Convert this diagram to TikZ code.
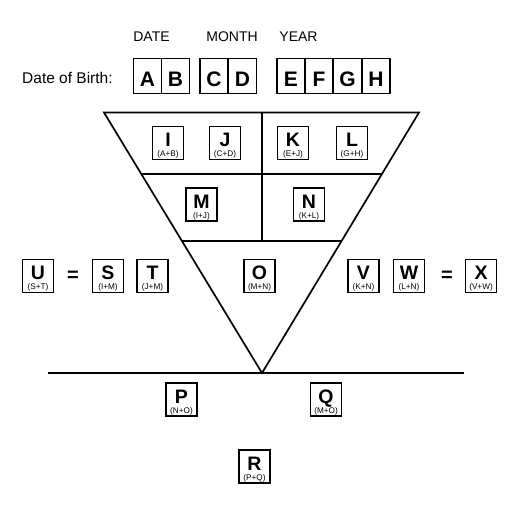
\documentclass[tikz,border=0pt]{standalone}
\usepackage{fontspec}
\setmainfont{Liberation Sans}
\usetikzlibrary{calc}
\newcommand\dbx[2]{%
  \node[digit] (#1) at (#2,75.8) {};
  \node[big] (#1l) at ([yshift=6.6pt]#1.south) {#1};}
\newcommand\cbx[4]{%
  \node[cbox] (#1) at (#2,#3) {};
  \node[mid] (#1l) at ([yshift=13pt]#1.south) {#1};
  \node[sml] (#1s) at ([yshift=2.8pt]#1.south) {(#4)};}
\begin{document}
\begin{tikzpicture}[x=1pt,y=-1pt,
  ln/.style={line width=1.7pt},
  digit/.style={draw, line width=1.6pt, minimum width=28pt, minimum height=35pt, inner sep=0pt, outer sep=0pt},
  cbox/.style={draw, line width=1.6pt, minimum width=31pt, minimum height=33pt, inner sep=0pt, outer sep=0pt},
  big/.style={font=\fontsize{21}{21}\selectfont\bfseries, inner sep=0pt, anchor=base},
  mid/.style={font=\fontsize{19.5}{19.5}\selectfont\bfseries, inner sep=0pt, anchor=base},
  sml/.style={font=\fontsize{8.2}{8.2}\selectfont, inner sep=0pt, anchor=base},
  hdr/.style={font=\fontsize{14}{14}\selectfont, inner sep=0pt, anchor=base},
  eq/.style={font=\fontsize{20}{20}\selectfont\bfseries, inner sep=0pt}
]
\useasboundingbox (0,0) rectangle (520,507);
% headers
\node[hdr] (hdate) at (151.5,41.7) {DATE};
\node[hdr] (hmonth) at (232,41.7) {MONTH};
\node[hdr] (hyear) at (298.5,41.7) {YEAR};
\node[hdr, anchor=base west, font=\fontsize{15.5}{15.5}\selectfont] (dob) at (22,83) {Date of Birth:};
% digit boxes
\dbx{A}{147.5}\dbx{B}{175.5}
\dbx{C}{214}\dbx{D}{242.5}
\dbx{E}{291}\dbx{F}{319}\dbx{G}{347.5}\dbx{H}{376}
% triangle
\coordinate (tl) at (104,112.5);
\coordinate (tr) at (419,112.5);
\coordinate (ap) at (262,373);
\draw[ln, line join=miter] (tl) -- (tr) -- (ap) -- cycle;
\coordinate (l1) at ($(tl)!0.236!(ap)$);
\coordinate (r1) at ($(tr)!0.236!(ap)$);
\coordinate (l2) at ($(tl)!0.493!(ap)$);
\coordinate (r2) at ($(tr)!0.493!(ap)$);
\coordinate (vt) at (262,112.5);
\coordinate (vb) at (262,241);
\draw[ln] (l1) -- (r1);
\draw[ln] (l2) -- (r2);
\draw[ln] (vt) -- (vb);
\coordinate (hl) at (48,373);
\coordinate (hr) at (464,373);
\draw[ln] (hl) -- (hr);
% calc boxes
\cbx{I}{168}{143}{A+B}
\cbx{J}{225}{143}{C+D}
\cbx{K}{293}{143}{E+J}
\cbx{L}{352}{143}{G+H}
\cbx{M}{201.5}{204.5}{I+J}
\cbx{N}{309}{204.5}{K+L}
\cbx{U}{38}{276}{S+T}
\cbx{S}{108}{276}{I+M}
\cbx{T}{152.5}{276}{J+M}
\cbx{O}{259.5}{276}{M+N}
\cbx{V}{363.5}{276}{K+N}
\cbx{W}{409}{276}{L+N}
\cbx{X}{481}{276}{V+W}
\cbx{P}{181.5}{399.5}{N+O}
\cbx{Q}{326}{399.5}{M+O}
\cbx{R}{254.5}{466.5}{P+Q}
\node[eq] (eq1) at (73,276) {=};
\node[eq] (eq2) at (447,276) {=};
\end{tikzpicture}
\end{document}
